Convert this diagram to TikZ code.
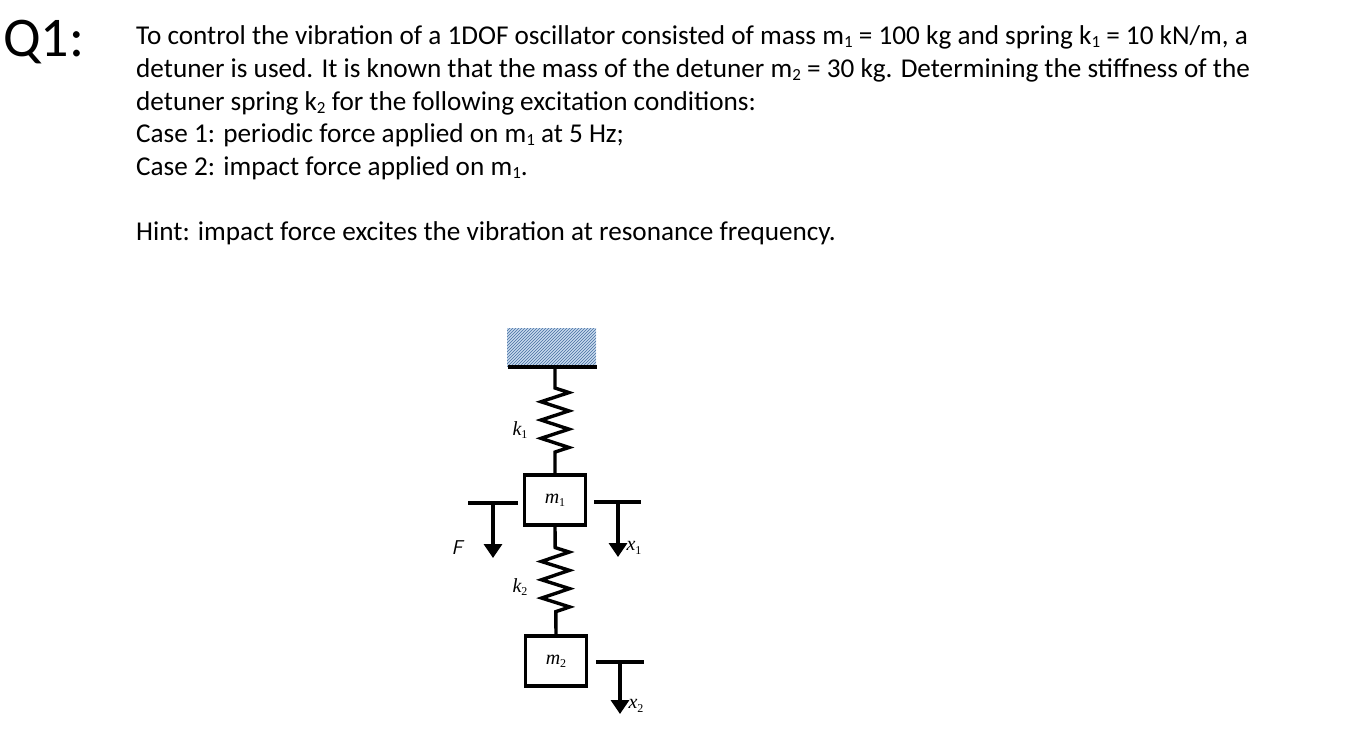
\documentclass[tikz,border=0pt]{standalone}
\usepackage{fontspec}
\setmainfont{Carlito}
\newfontfamily\tms{Liberation Serif}
\newcommand\lowsub[1]{\raisebox{-0.3ex}{\fontsize{17}{20}\selectfont #1}}
\newcommand\msub[2]{#1\raisebox{-0.35ex}{\fontsize{12}{14}\selectfont\upshape #2}}
\usetikzlibrary{decorations.pathmorphing,patterns,arrows.meta}
\begin{document}
\begin{tikzpicture}[x=1pt,y=-1pt,
  txt/.style={anchor=base west,inner sep=0pt,font=\fontsize{27.2}{30}\selectfont},
  mass/.style={draw,line width=3.2pt,minimum width=61pt,minimum height=50pt,inner sep=0pt,font=\tms\itshape\fontsize{20}{24}\selectfont},
  lbl/.style={inner sep=0pt,font=\tms\itshape\fontsize{20}{24}\selectfont},
  spring/.style={line width=3.4pt,decorate,decoration={zigzag,segment length=18.3pt,amplitude=14pt,pre length=21pt,post length=21pt}},
  frc/.style={line width=3.4pt,-{Triangle[length=14pt,width=18pt]}},
  bar/.style={line width=3.2pt}]
\useasboundingbox (0,0) rectangle (1353,745);
\node[anchor=base west,inner sep=0pt,font=\fontsize{56}{60}\selectfont] (q) at (3,56) {Q1:};
\node[txt] (l1) at (136,44) {To control the vibration of a 1DOF oscillator consisted of mass m\lowsub{1} = 100 kg and spring k\lowsub{1} = 10 kN/m, a};
\node[txt] (l2) at (136,77) {detuner is used. It is known that the mass of the detuner m\lowsub{2} = 30 kg. Determining the stiffness of the};
\node[txt] (l3) at (136,110) {detuner spring k\lowsub{2} for the following excitation conditions:};
\node[txt] (l4) at (136,142) {Case 1: periodic force applied on m\lowsub{1} at 5 Hz;};
\node[txt] (l5) at (136,175) {Case 2: impact force applied on m\lowsub{1}.};
\node[txt] (l6) at (136,240) {Hint: impact force excites the vibration at resonance frequency.};
% ground
\fill[fill={rgb,255:red,200;green,218;blue,238}] (507,328) rectangle (596,366);
\fill[pattern=north east lines,pattern color={rgb,255:red,70;green,110;blue,160}] (507,328) rectangle (596,366);
\draw[line width=4.5pt] (508,367) -- (597,367);
\coordinate (g) at (555,367);
\node[mass] (m1) at (555,500) {\msub{m}{1}};
\node[mass] (m2) at (556,661) {\msub{m}{2}};
\draw[spring] (g) -- (m1.north);
\draw[spring] (m1.south) -- (m2.north);
\node[lbl] (k1) at (520,430) {\msub{k}{1}};
\node[lbl] (k2) at (520,587) {\msub{k}{2}};
% F
\coordinate (fa) at (468,503); \coordinate (fb) at (518,503);
\draw[bar] (fa) -- (fb);
\coordinate (ft) at (493,503); \coordinate (fe) at (493,558);
\draw[frc] (ft) -- (fe);
\node[inner sep=0pt,font=\sffamily\itshape\fontsize{20}{24}\selectfont] (F) at (457,548) {F};
% x1
\draw[bar] (594,502) coordinate (xa) -- (641,502) coordinate (xb);
\coordinate (x1t) at (618,502); \coordinate (x1e) at (618,557);
\draw[frc] (x1t) -- (x1e);
\node[lbl] (x1) at (634,548) {\msub{x}{1}};
% x2
\draw[bar] (596,662) coordinate (ya) -- (644,662) coordinate (yb);
\coordinate (x2t) at (620,662); \coordinate (x2e) at (620,714);
\draw[frc] (x2t) -- (x2e);
\node[lbl] (x2) at (636,706) {\msub{x}{2}};
\end{tikzpicture}
\end{document}
